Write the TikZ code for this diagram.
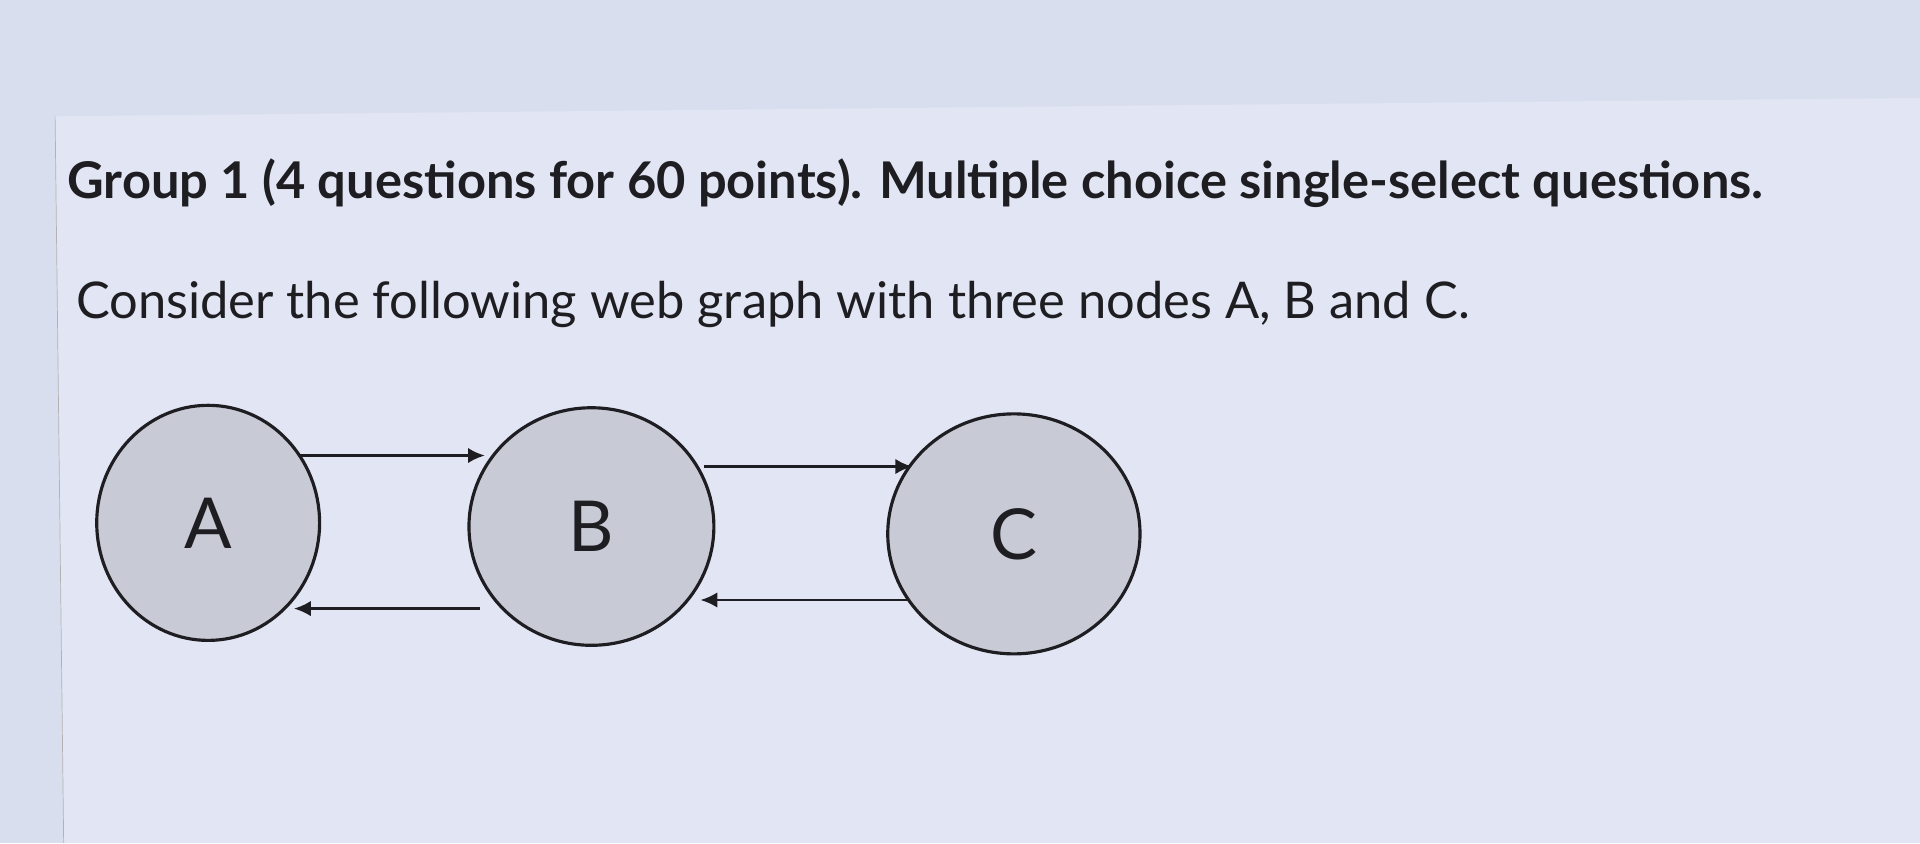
\documentclass[tikz,border=0pt]{standalone}
\usepackage{fontspec}
\setmainfont{Lato}
\usetikzlibrary{arrows.meta,shapes.geometric}
\definecolor{bg}{HTML}{D9DEEE}
\definecolor{panel}{HTML}{E2E6F4}
\definecolor{nodefill}{HTML}{C8CBD6}
\definecolor{ink}{HTML}{1E1E22}
\tikzset{
  gnode/.style={ellipse, draw=ink, line width=4.5pt, fill=nodefill, font=\fontsize{100}{100}\selectfont, text=ink, inner sep=0pt},
  link/.style={draw=ink, line width=4pt, -{Latex[length=24pt,width=22pt]}},
  txt/.style={anchor=base west, text=ink, inner sep=0pt}
}
\begin{document}
\begin{tikzpicture}[x=0.06122cm,y=-0.06122cm]
\useasboundingbox (0,0) rectangle (1568,688.5);
\fill[bg] (0,0) rectangle (1568,688.5);
\fill[panel] (45,95) -- (1568,80) -- (1568,688.5) -- (52,688.5) -- cycle;
\draw[gray!60, line width=1pt] (45,95) -- (52,688.5);
\node[txt, font=\fontsize{72}{74}\selectfont\bfseries] (title) at (55,162) {Group 1 (4 questions for 60 points). Multiple choice single-select questions.};
\node[txt, font=\fontsize{72}{74}\selectfont] (intro) at (62,260) {Consider the following web graph with three nodes A, B and C.};
\node[gnode, minimum width=182*0.06122cm, minimum height=192*0.06122cm] (A) at (170,427) {A};
\node[gnode, minimum width=200*0.06122cm, minimum height=194*0.06122cm] (B) at (483,430) {B};
\node[gnode, minimum width=206*0.06122cm, minimum height=196*0.06122cm] (C) at (828,436) {C};
\coordinate (a1) at (245,372); \coordinate (b1) at (396,372);
\coordinate (b2) at (575,381); \coordinate (c2) at (745,381);
\coordinate (c3) at (741,490); \coordinate (b3) at (572,490);
\coordinate (b4) at (392,497); \coordinate (a4) at (240,497);
\draw[link] (a1) -- (b1);
\draw[link] (b2) -- (c2);
\draw[link] (c3) -- (b3);
\draw[link] (b4) -- (a4);
\end{tikzpicture}
\end{document}
